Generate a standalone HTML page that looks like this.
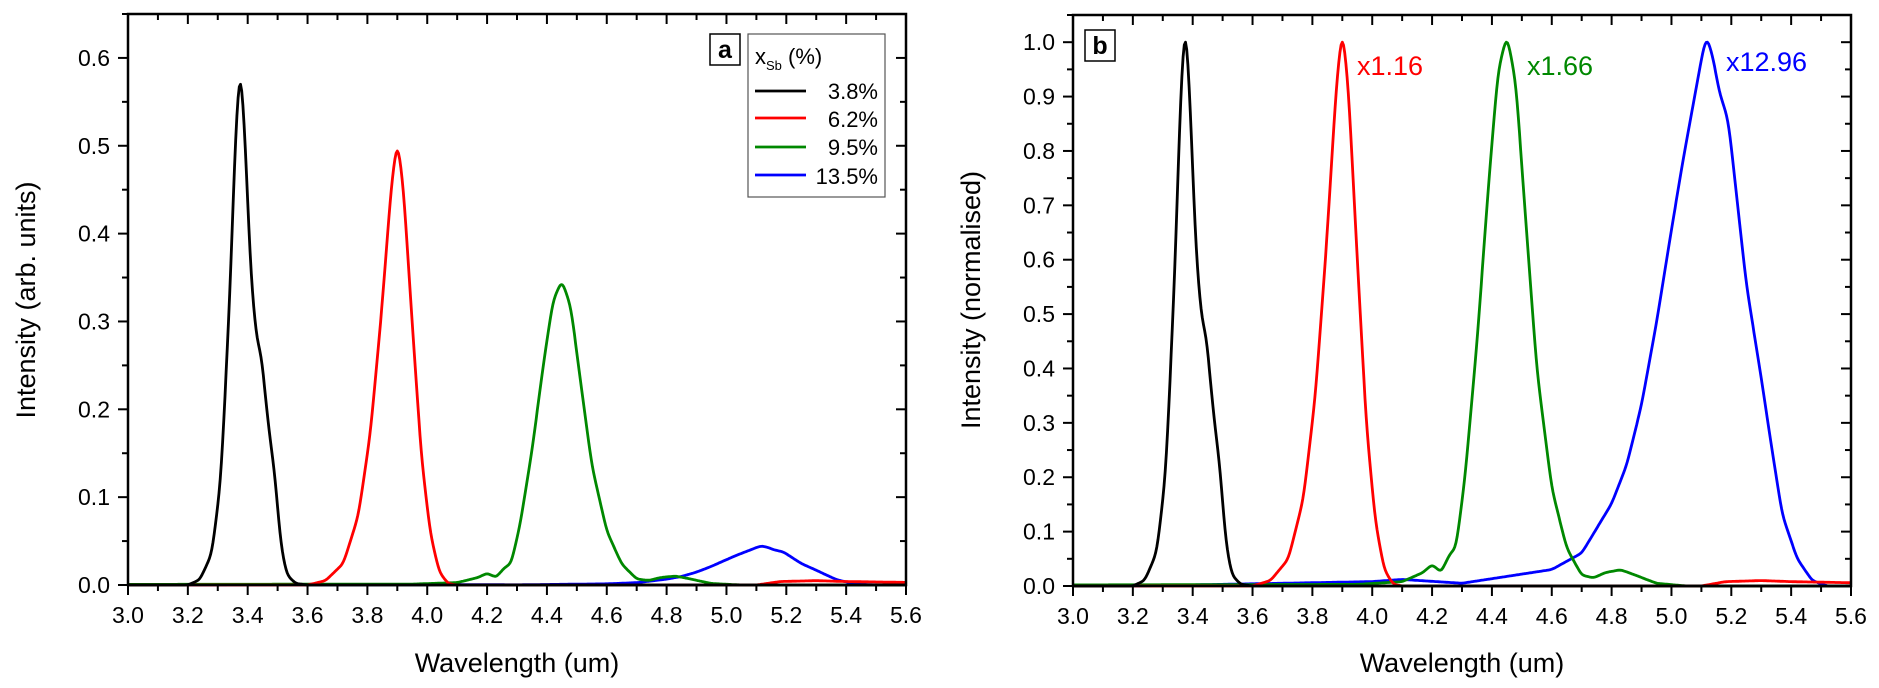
<!DOCTYPE html>
<html><head><meta charset="utf-8"><style>
html,body{margin:0;padding:0;background:#fff}
svg{display:block;font-family:"Liberation Sans",Arial,sans-serif}
</style></head><body>
<svg id="s" width="1879" height="688" xmlns="http://www.w3.org/2000/svg">
<rect width="1879" height="688" fill="#fff"/>
<g id="g"></g>
<rect x="710" y="34" width="30" height="31" fill="#fff" stroke="#000" stroke-width="1.5"/>
<text x="725" y="58" font-size="25" font-weight="bold" text-anchor="middle">a</text>
<rect x="748" y="34" width="137" height="163" fill="#fff" stroke="#555" stroke-width="1.2"/>
<text x="755" y="64" font-size="22">x<tspan font-size="13" dy="6">Sb</tspan><tspan dy="-6"> (%)</tspan></text>
<line x1="755" y1="91" x2="806" y2="91" stroke="#000" stroke-width="2.8"/>
<line x1="755" y1="118" x2="806" y2="118" stroke="#f00" stroke-width="2.8"/>
<line x1="755" y1="147" x2="806" y2="147" stroke="#080" stroke-width="2.8"/>
<line x1="755" y1="175" x2="806" y2="175" stroke="#00f" stroke-width="2.8"/>
<g font-size="22" text-anchor="end">
<text x="878" y="99">3.8%</text><text x="878" y="127">6.2%</text>
<text x="878" y="155">9.5%</text><text x="878" y="184">13.5%</text></g>
<rect x="1085" y="30" width="30" height="31" fill="#fff" stroke="#000" stroke-width="1.5"/>
<text x="1100" y="54" font-size="25" font-weight="bold" text-anchor="middle">b</text>
<g font-size="27">
<text x="1357" y="75" fill="#f00">x1.16</text>
<text x="1527" y="75" fill="#080">x1.66</text>
<text x="1726" y="71" fill="#00f">x12.96</text></g>
<g font-size="27" text-anchor="middle">
<text x="517" y="672">Wavelength (um)</text>
<text x="1462" y="672">Wavelength (um)</text>
<text transform="translate(35,300) rotate(-90)">Intensity (arb. units)</text>
<text transform="translate(980,300) rotate(-90)">Intensity (normalised)</text></g>
</svg>
<script>
const NS="http://www.w3.org/2000/svg",g=document.getElementById('g');
function el(t,a){const e=document.createElementNS(NS,t);for(const k in a)e.setAttribute(k,a[k]);g.appendChild(e);return e;}
const B=[[3,0],[3.2,0],[3.24,0.01],[3.28,0.06],[3.31,0.2],[3.34,0.55],[3.36,0.88],[3.375,1.02],[3.39,0.88],[3.41,0.6],[3.43,0.47],[3.445,0.45],[3.46,0.36],[3.475,0.28],[3.49,0.22],[3.51,0.08],[3.53,0.02],[3.56,0.003],[3.6,0],[5.6,0]];
const R=[[3,0],[3.6,0],[3.66,0.01],[3.72,0.05],[3.77,0.16],[3.81,0.35],[3.85,0.65],[3.88,0.92],[3.9,1.03],[3.92,0.92],[3.95,0.6],[3.98,0.3],[4.01,0.12],[4.04,0.03],[4.07,0.003],[4.1,0],[5.1,0],[5.18,0.008],[5.3,0.01],[5.4,0.008],[5.6,0.006]];
const G=[[3,0.002],[3.95,0.003],[4.1,0.008],[4.17,0.025],[4.2,0.04],[4.23,0.025],[4.26,0.06],[4.28,0.07],[4.31,0.2],[4.35,0.45],[4.39,0.75],[4.42,0.95],[4.45,1.02],[4.48,0.93],[4.51,0.7],[4.55,0.4],[4.6,0.18],[4.65,0.07],[4.7,0.02],[4.74,0.015],[4.78,0.025],[4.83,0.03],[4.88,0.02],[4.95,0.005],[5.05,0],[5.6,0]];
const L=[[3,0],[3.2,0],[4,0.008],[4.1,0.012],[4.3,0.005],[4.6,0.03],[4.7,0.06],[4.8,0.15],[4.85,0.22],[4.9,0.33],[4.95,0.48],[5,0.65],[5.04,0.78],[5.08,0.9],[5.11,0.99],[5.12,1],[5.14,0.96],[5.16,0.9],[5.19,0.85],[5.22,0.7],[5.25,0.55],[5.3,0.38],[5.33,0.27],[5.37,0.13],[5.42,0.05],[5.47,0.01],[5.52,0],[5.6,0]];
function smooth(p){const h=0.004,N=650,xs=[],ys=[];let j=0;
 for(let i=0;i<=N;i++){const x=3+i*h;while(j<p.length-2&&p[j+1][0]<x)j++;const a=p[j],b=p[j+1];const t=Math.min(1,Math.max(0,(x-a[0])/(b[0]-a[0])));xs.push(x);ys.push(a[1]+(b[1]-a[1])*t);}
 const s=0.007,K=[];let ks=0;for(let k=-6;k<=6;k++){const w=Math.exp(-((k*h)**2)/(2*s*s));K.push(w);ks+=w;}
 const out=[];let mx=0;for(let i=0;i<=N;i++){let v=0;for(let k=-6;k<=6;k++){const q=Math.min(N,Math.max(0,i+k));v+=ys[q]*K[k+6];}v/=ks;out.push(v);if(v>mx)mx=v;}
 return xs.map((x,i)=>[x,out[i]/mx]);}
function panel(x0,x1,y0,top,ymax,step,ndig,series){
 const sx=v=>x0+(v-3)/2.6*(x1-x0),sy=v=>y0-v/ymax*(y0-top);
 series.forEach(([pts,sc,c])=>{let d='';smooth(pts).forEach((p,i)=>{d+=(i?'L':'M')+sx(p[0]).toFixed(1)+','+sy(p[1]*sc).toFixed(1)});
  el('path',{d,fill:'none',stroke:c,'stroke-width':2.8,'stroke-linejoin':'round'});});
 el('rect',{x:x0,y:top,width:x1-x0,height:y0-top,fill:'none',stroke:'#000','stroke-width':2.5});
 for(let i=0;i<=26;i++){const x=sx(3+i*0.1),M=i%2==0,l=M?10:6;
  el('line',{x1:x,x2:x,y1:y0,y2:y0+l,stroke:'#000','stroke-width':2});
  el('line',{x1:x,x2:x,y1:top,y2:top+l,stroke:'#000','stroke-width':2});
  if(M){const t=el('text',{x:x,y:y0+38,'font-size':23,'text-anchor':'middle'});t.textContent=(3+i*0.1).toFixed(1);}}
 for(let i=0;;i++){const v=i*step/2;if(v>ymax+1e-9)break;const y=sy(v),M=i%2==0,l=M?10:6;
  el('line',{x1:x0,x2:x0-l,y1:y,y2:y,stroke:'#000','stroke-width':2});
  el('line',{x1:x1,x2:x1-l,y1:y,y2:y,stroke:'#000','stroke-width':2});
  if(M){const t=el('text',{x:x0-18,y:y+8,'font-size':23,'text-anchor':'end'});t.textContent=v.toFixed(ndig);}}
}
panel(128,906,585,14,0.65,0.1,1,[[L,0.044,'#00f'],[G,0.342,'#080'],[R,0.494,'#f00'],[B,0.57,'#000']]);
panel(1073,1851,586,15,1.05,0.1,1,[[L,1,'#00f'],[G,1,'#080'],[R,1,'#f00'],[B,1,'#000']]);
</script>
</body></html>
